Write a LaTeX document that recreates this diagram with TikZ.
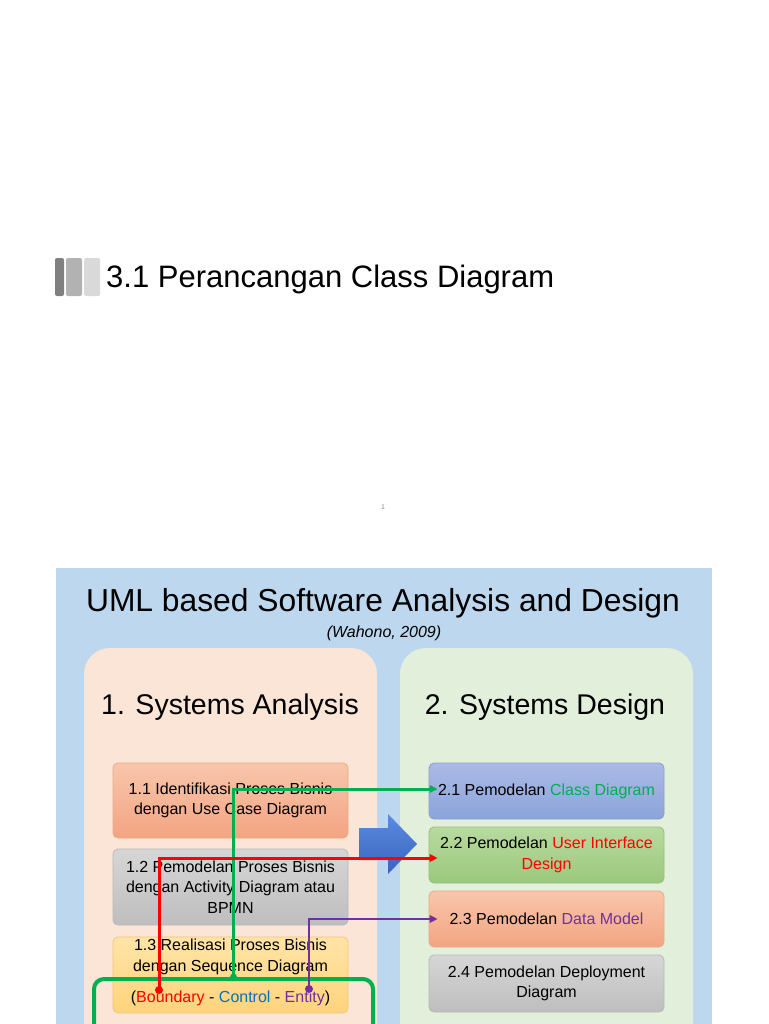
\documentclass[tikz,border=0pt]{standalone}
\usepackage{fontspec}
\setmainfont{Liberation Sans}
\usetikzlibrary{arrows.meta,calc}
\definecolor{bgblue}{HTML}{BDD7EE}
\definecolor{pinkpanel}{HTML}{FBE5D6}
\definecolor{greenpanel}{HTML}{E2EFDA}
\definecolor{salt}{HTML}{F8C6AC}
\definecolor{salb}{HTML}{F3A482}
\definecolor{sald}{HTML}{E9A98A}
\definecolor{grat}{HTML}{D6D6D6}
\definecolor{grab}{HTML}{BEBEBE}
\definecolor{grad}{HTML}{B8B8B8}
\definecolor{yelt}{HTML}{FFE4A6}
\definecolor{yelb}{HTML}{FFD37C}
\definecolor{yeld}{HTML}{F0C878}
\definecolor{blut}{HTML}{AABAE6}
\definecolor{blub}{HTML}{8CA4DA}
\definecolor{blud}{HTML}{8A9FD0}
\definecolor{grnt}{HTML}{B8DAA0}
\definecolor{grnb}{HTML}{9BC87C}
\definecolor{grnd}{HTML}{94BF7A}
\definecolor{cgreen}{HTML}{00B050}
\definecolor{cred}{HTML}{FF0000}
\definecolor{cblue}{HTML}{0070C0}
\definecolor{cpurple}{HTML}{7030A0}
\definecolor{arrt}{HTML}{5A8CE0}
\definecolor{arrb}{HTML}{3A64BE}
\tikzset{
  sbox/.style={rectangle, rounded corners=5pt, inner sep=0pt, minimum width=235pt,
    align=center, font=\fontsize{16}{20.5}\selectfont, line width=0.8pt},
  salmonbox/.style={top color=salt, bottom color=salb, draw=sald},
  graybox/.style={top color=grat, bottom color=grab, draw=grad},
  yellowbox/.style={top color=yelt, bottom color=yelb, draw=yeld},
  bluebox/.style={top color=blut, bottom color=blub, draw=blud},
  greenbox/.style={top color=grnt, bottom color=grnb, draw=grnd},
  conn/.style={line width=3pt, -{Triangle[length=8pt,width=7.5pt]}},
  cdot/.style={circle, inner sep=0pt, minimum size=8pt},
  panel/.style={rounded corners=26pt},
  icon/.style={rounded corners=2pt}
}
\begin{document}
\begin{tikzpicture}[x=1pt,y=-1pt]
\useasboundingbox (0,0) rectangle (768,1024);
\clip (0,0) rectangle (768,1024);
\fill[white] (0,0) rectangle (768,1024);

% title
\fill[icon, fill=black!50] (55,258) rectangle (64,296);
\fill[icon, fill=black!30] (66,258) rectangle (82,296);
\fill[icon, fill=black!15] (84,258) rectangle (100,296);
\node[anchor=base west, inner sep=0pt, font=\fontsize{31}{36}\selectfont] (title) at (106,287) {3.1 Perancangan Class Diagram};
\node[inner sep=0pt, text=black!45, font=\fontsize{7}{8}\selectfont] (pgnum) at (383,507) {1};

% background
\fill[bgblue] (56,568) rectangle (712,1040);
\node[anchor=base, inner sep=0pt, font=\fontsize{31.8}{36}\selectfont] (head) at (383,611) {UML based Software Analysis and Design};
\node[anchor=base, inner sep=0pt, font=\itshape\fontsize{16}{18}\selectfont] (ref) at (384,637) {(Wahono, 2009)};

% panels
\fill[panel, pinkpanel] (84,648) rectangle (377,1070);
\fill[panel, greenpanel] (400,648) rectangle (693,1070);
\node[anchor=base, inner sep=0pt, font=\fontsize{28.5}{32}\selectfont] (ana) at (230,714) {1. Systems Analysis};
\node[anchor=base, inner sep=0pt, font=\fontsize{28.5}{32}\selectfont] (des) at (545,714) {2. Systems Design};

% left boxes
\node[sbox, salmonbox, minimum height=75pt] (b11) at (230.5,800.5) {1.1 Identifikasi Proses Bisnis\\dengan Use Case Diagram};
\node[sbox, graybox, minimum height=76pt] (b12) at (230.5,887) {1.2 Pemodelan Proses Bisnis\\dengan Activity Diagram atau\\BPMN};
\node[sbox, yellowbox, minimum height=76pt] (b13) at (230.5,975) {};
\node[inner sep=0pt, align=center, font=\fontsize{16}{21}\selectfont] (t13) at (230.5,972)
  {1.3 Realisasi Proses Bisnis\\dengan Sequence Diagram\\[10pt]({\color{cred}Boundary} - {\color{cblue}Control} - {\color{cpurple}Entity})};

% right boxes
\node[sbox, bluebox, minimum height=56pt] (b21) at (546.5,791) {2.1 Pemodelan {\color{cgreen}Class Diagram}};
\node[sbox, greenbox, minimum height=56pt] (b22) at (546.5,855) {2.2 Pemodelan {\color{cred}User Interface}\\{\color{cred}Design}};
\node[sbox, salmonbox, minimum height=56pt] (b23) at (546.5,919) {2.3 Pemodelan {\color{cpurple}Data Model}};
\node[sbox, graybox, minimum height=57pt] (b24) at (546.5,983.5) {2.4 Pemodelan Deployment\\Diagram};

% big arrow
\shade[top color=arrt, bottom color=arrb] (359,828) -- (388,828) -- (388,814) -- (417,844) -- (388,874) -- (388,860) -- (359,860) -- cycle;

% green frame
\node[draw=cgreen, line width=4pt, rounded corners=10pt, minimum width=279pt, minimum height=80pt, inner sep=0pt] (gbox) at (233.5,1019) {};

% connectors
\node[cdot] (gdot) at (gbox.north) {};
\coordinate (rdot) at (159,990);
\coordinate (pdot) at (309,989);
\draw[conn, cgreen] (gdot.center) |- ($(b21.west)+(9,-2)$);
\draw[conn, cred] (rdot) |- ($(b22.west)+(9,3)$);
\draw[conn, cpurple, line width=2.5pt] (pdot) |- ($(b23.west)+(9,0)$);
\fill[cgreen] (gdot.center) circle (3.5pt);
\fill[cred] (rdot) circle (4pt);
\fill[cpurple] (pdot) circle (4pt);
\end{tikzpicture}
\end{document}
